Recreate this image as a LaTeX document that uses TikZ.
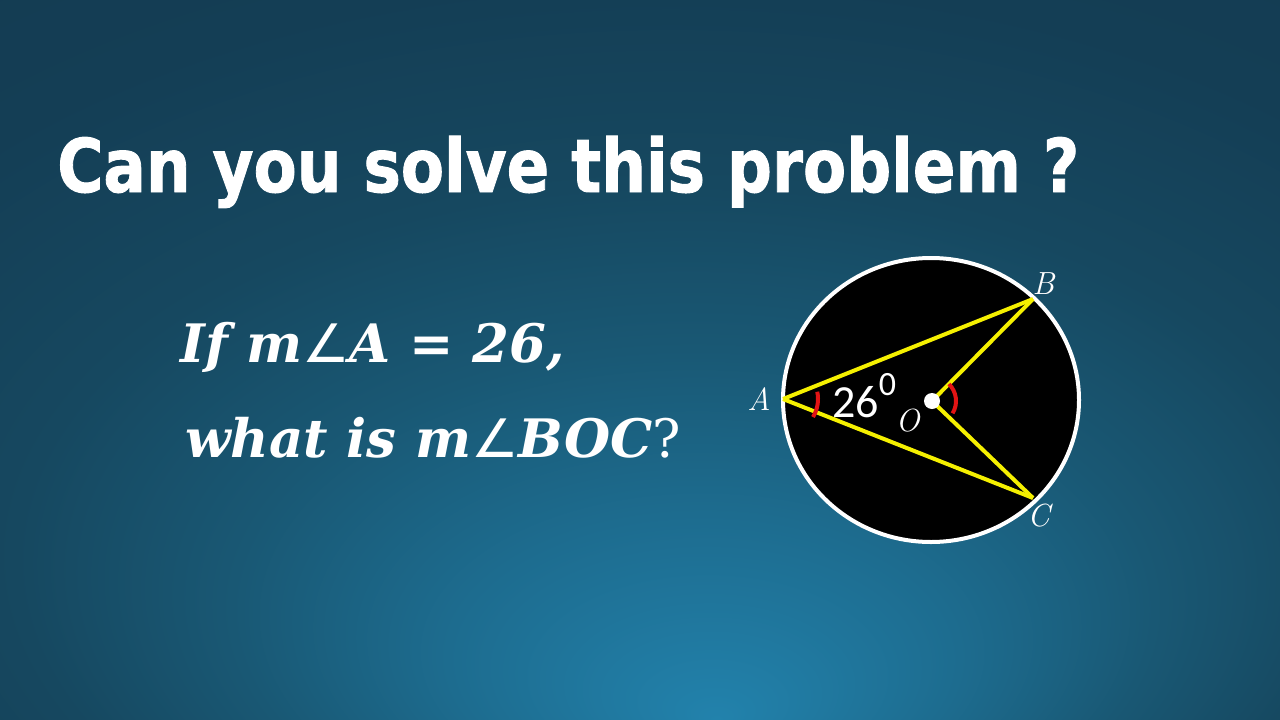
\documentclass[tikz,border=0pt]{standalone}
\usepackage{amsmath}
\usepackage{amssymb}
\usepackage{fontspec}
\usepackage{xcolor}
\usepackage{tikz}
\usetikzlibrary{calc}
\usetikzlibrary{positioning}

\newfontfamily\titlefont{DejaVu Sans}[BoldFeatures={FakeBold=1.3}]
\newfontfamily\qfont{DejaVu Serif}
\newfontfamily\calfont{Carlito}
\newfontfamily\symfont{DejaVu Sans}
\newcommand{\angsym}{{\symfont\upshape\mdseries ∠}}

\definecolor{bgglow}{RGB}{34,130,172}
\definecolor{bgglowb}{RGB}{29,108,143}
\definecolor{bglow}{RGB}{25,88,116}
\definecolor{bgmid}{RGB}{22,72,96}
\definecolor{bgside}{RGB}{20,62,85}
\definecolor{bgtop}{RGB}{19,58,80}
\definecolor{bgdark}{RGB}{17,48,68}
\definecolor{chordyellow}{RGB}{245,240,0}
\definecolor{markred}{RGB}{226,20,20}

\pgfdeclareradialshading{slidebg}{\pgfpoint{3bp}{-25bp}}{color(0bp)=(bgglow);color(10bp)=(bgglowb);color(18bp)=(bglow);color(26bp)=(bgmid);color(36bp)=(bgside);color(50bp)=(bgtop);color(58bp)=(bgdark)}

\begin{document}
\begin{tikzpicture}[x=1pt,y=-1pt,semithick]
	\tikzstyle{chord}=[draw=chordyellow, line width=4pt]
	\tikzstyle{anglemark}=[draw=markred, line width=4pt]
	\tikzstyle{pointlabel}=[text=white, inner sep=0pt, font=\fontsize{32}{32}\selectfont\itshape]
	\tikzstyle{question}=[text=white, inner sep=0pt, anchor=base west, font=\qfont\fontsize{53}{53}\selectfont\bfseries\itshape]

	\useasboundingbox (0,0) rectangle (1280,720);
	\shade[shading=slidebg] (0,0) rectangle (1280,720);

	% heading
	\node[text=white, inner sep=0pt, anchor=base west, xscale=0.85] (title) at (57,192)
		{\titlefont\bfseries\fontsize{74}{74}\selectfont Can you solve this problem ?};

	% the question
	\node[question] (q1) at (180,362) {If m\angsym A = 26,};
	\node[question] (q2) at (185,457) {what is m\angsym BOC{\upshape\mdseries ?}};

	% circle and points
	\coordinate (O) at (932,401);
	\coordinate (A) at (783,399);
	\coordinate (B) at (1033,299);
	\coordinate (C) at (1033,498);
	\draw[fill=black, draw=white, line width=4pt] (931,400) ellipse [x radius=148pt, y radius=142pt];

	\foreach \i in {A,O}{
		\foreach \j in {B,C}{
			\draw[chord] (\i) -- (\j);
			}
			}

	\draw[anglemark] ([shift={(12:35pt)}]A) arc[start angle=12, end angle=-31, radius=35pt];
	\draw[anglemark] ([shift={(45:24pt)}]O) arc[start angle=45, end angle=-31, radius=24pt];
	\node[circle, fill=white, inner sep=0pt, minimum size=16pt] (dot) at (O) {};

	\node[pointlabel] (la) [left=12pt of A] {A};
	\node[pointlabel] (lb) [above right=4pt and -1pt of B] {B};
	\node[pointlabel] (lc) [below right=6pt and -6pt of C] {C};
	\node[pointlabel] (lo) [below left=8pt and 12pt of O] {O};
	\node[text=white, inner sep=0pt, anchor=base west] (deg) at (832,417)
		{\calfont\fontsize{46}{46}\selectfont 26\raisebox{22pt}{\fontsize{34}{34}\selectfont 0}};
\end{tikzpicture}
\end{document}
